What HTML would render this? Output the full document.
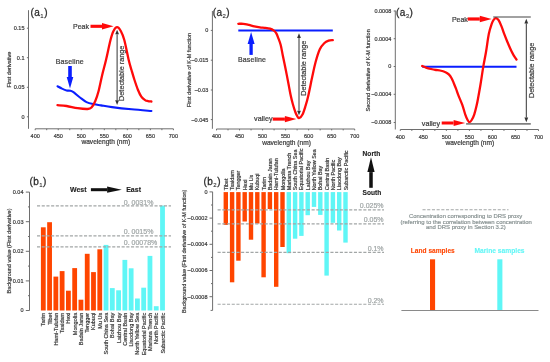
<!DOCTYPE html>
<html><head><meta charset="utf-8"><style>
html,body{margin:0;padding:0;background:#fff;width:550px;height:362px;overflow:hidden}
svg{display:block;filter:blur(0.3px)}
text{font-family:"Liberation Sans", sans-serif}
</style></head><body>
<svg width="550" height="362" viewBox="0 0 550 362" font-family='"Liberation Sans", sans-serif'>
<rect width="550" height="362" fill="#fff"/>
<line x1="28.5" y1="10.2" x2="28.5" y2="128.8" stroke="#6e6e6e" stroke-width="1" />
<line x1="26.9" y1="28.2" x2="28.5" y2="28.2" stroke="#6e6e6e" stroke-width="1" />
<text x="24.5" y="30.099999999999998" font-size="5.5" text-anchor="end" fill="#3a3a3a" stroke="#3a3a3a" stroke-width="0.2" font-weight="400" >0.15</text>
<line x1="26.9" y1="57.7" x2="28.5" y2="57.7" stroke="#6e6e6e" stroke-width="1" />
<text x="24.5" y="59.6" font-size="5.5" text-anchor="end" fill="#3a3a3a" stroke="#3a3a3a" stroke-width="0.2" font-weight="400" >0.1</text>
<line x1="26.9" y1="87.3" x2="28.5" y2="87.3" stroke="#6e6e6e" stroke-width="1" />
<text x="24.5" y="89.2" font-size="5.5" text-anchor="end" fill="#3a3a3a" stroke="#3a3a3a" stroke-width="0.2" font-weight="400" >0.05</text>
<line x1="26.9" y1="116.8" x2="28.5" y2="116.8" stroke="#6e6e6e" stroke-width="1" />
<text x="24.5" y="118.7" font-size="5.5" text-anchor="end" fill="#3a3a3a" stroke="#3a3a3a" stroke-width="0.2" font-weight="400" >0</text>
<line x1="35.2" y1="128.8" x2="173.41000000000003" y2="128.8" stroke="#6e6e6e" stroke-width="1" />
<line x1="35.2" y1="128.8" x2="35.2" y2="130.20000000000002" stroke="#6e6e6e" stroke-width="1" />
<text x="35.2" y="138.2" font-size="5.5" text-anchor="middle" fill="#3a3a3a" stroke="#3a3a3a" stroke-width="0.2" font-weight="400" >400</text>
<line x1="46.7175" y1="128.8" x2="46.7175" y2="130.20000000000002" stroke="#6e6e6e" stroke-width="1" />
<line x1="58.235" y1="128.8" x2="58.235" y2="130.20000000000002" stroke="#6e6e6e" stroke-width="1" />
<text x="58.235" y="138.2" font-size="5.5" text-anchor="middle" fill="#3a3a3a" stroke="#3a3a3a" stroke-width="0.2" font-weight="400" >450</text>
<line x1="69.7525" y1="128.8" x2="69.7525" y2="130.20000000000002" stroke="#6e6e6e" stroke-width="1" />
<line x1="81.27000000000001" y1="128.8" x2="81.27000000000001" y2="130.20000000000002" stroke="#6e6e6e" stroke-width="1" />
<text x="81.27000000000001" y="138.2" font-size="5.5" text-anchor="middle" fill="#3a3a3a" stroke="#3a3a3a" stroke-width="0.2" font-weight="400" >500</text>
<line x1="92.7875" y1="128.8" x2="92.7875" y2="130.20000000000002" stroke="#6e6e6e" stroke-width="1" />
<line x1="104.305" y1="128.8" x2="104.305" y2="130.20000000000002" stroke="#6e6e6e" stroke-width="1" />
<text x="104.305" y="138.2" font-size="5.5" text-anchor="middle" fill="#3a3a3a" stroke="#3a3a3a" stroke-width="0.2" font-weight="400" >550</text>
<line x1="115.8225" y1="128.8" x2="115.8225" y2="130.20000000000002" stroke="#6e6e6e" stroke-width="1" />
<line x1="127.34" y1="128.8" x2="127.34" y2="130.20000000000002" stroke="#6e6e6e" stroke-width="1" />
<text x="127.34" y="138.2" font-size="5.5" text-anchor="middle" fill="#3a3a3a" stroke="#3a3a3a" stroke-width="0.2" font-weight="400" >600</text>
<line x1="138.85750000000002" y1="128.8" x2="138.85750000000002" y2="130.20000000000002" stroke="#6e6e6e" stroke-width="1" />
<line x1="150.375" y1="128.8" x2="150.375" y2="130.20000000000002" stroke="#6e6e6e" stroke-width="1" />
<text x="150.375" y="138.2" font-size="5.5" text-anchor="middle" fill="#3a3a3a" stroke="#3a3a3a" stroke-width="0.2" font-weight="400" >650</text>
<line x1="161.89249999999998" y1="128.8" x2="161.89249999999998" y2="130.20000000000002" stroke="#6e6e6e" stroke-width="1" />
<line x1="173.41000000000003" y1="128.8" x2="173.41000000000003" y2="130.20000000000002" stroke="#6e6e6e" stroke-width="1" />
<text x="173.41000000000003" y="138.2" font-size="5.5" text-anchor="middle" fill="#3a3a3a" stroke="#3a3a3a" stroke-width="0.2" font-weight="400" >700</text>
<text x="130.20000000000002" y="144.39999999999998" font-size="6.6" text-anchor="end" fill="#3a3a3a" stroke="#3a3a3a" stroke-width="0.2" font-weight="400" >wavelength (nm)</text>
<text x="30.5" y="15.7" font-size="10" letter-spacing="0.47" fill="#2e2e2e" stroke="#2e2e2e" stroke-width="0.3">(a<tspan font-size="6" dy="1.9" stroke-width="0.1">1</tspan><tspan dy="-1.9" font-size="10">)</tspan></text>
<text transform="translate(11.0,69.5) rotate(-90)" font-size="5.5" text-anchor="middle" fill="#3a3a3a" stroke="#3a3a3a" stroke-width="0.2" font-weight="400" >First derivative</text>
<path d="M57.50,86.30 C58.25,86.68 60.48,87.92 62.00,88.60 C63.52,89.28 65.20,90.03 66.60,90.40 C68.00,90.77 69.20,90.47 70.40,90.80 C71.60,91.13 72.20,91.28 73.80,92.40 C75.40,93.52 77.88,95.88 80.00,97.50 C82.12,99.12 84.13,100.97 86.50,102.10 C88.87,103.23 91.78,103.75 94.20,104.30 C96.62,104.85 98.03,104.93 101.00,105.40 C103.97,105.87 106.90,106.45 112.00,107.10 C117.10,107.75 125.03,108.65 131.60,109.30 C138.17,109.95 148.10,110.72 151.40,111.00" fill="none" stroke="#0a1eff" stroke-width="2.1" stroke-linecap="round" stroke-linejoin="round"/>
<path d="M57.50,105.20 C59.02,105.33 63.25,105.50 66.60,106.00 C69.95,106.50 74.10,107.70 77.60,108.20 C81.10,108.70 85.28,109.12 87.60,109.00 C89.92,108.88 90.22,108.83 91.50,107.50 C92.78,106.17 94.12,103.75 95.30,101.00 C96.48,98.25 97.45,95.33 98.60,91.00 C99.75,86.67 100.97,80.17 102.20,75.00 C103.43,69.83 104.62,65.83 106.00,60.00 C107.38,54.17 109.25,44.83 110.50,40.00 C111.75,35.17 112.40,33.13 113.50,31.00 C114.60,28.87 115.88,27.20 117.10,27.20 C118.32,27.20 119.60,28.87 120.80,31.00 C122.00,33.13 122.98,35.17 124.30,40.00 C125.62,44.83 127.50,55.00 128.70,60.00 C129.90,65.00 130.53,66.67 131.50,70.00 C132.47,73.33 133.43,76.72 134.50,80.00 C135.57,83.28 136.77,86.93 137.90,89.70 C139.03,92.47 140.10,94.87 141.30,96.60 C142.50,98.33 143.98,99.35 145.10,100.10 C146.22,100.85 146.95,100.87 148.00,101.10 C149.05,101.33 150.83,101.43 151.40,101.50" fill="none" stroke="#ff0a0a" stroke-width="2.3" stroke-linecap="round" stroke-linejoin="round"/>
<rect x="90.5" y="24.75" width="11.5" height="3.1" fill="#ff0a0a"/>
<polygon points="102.0,23.05 113.6,26.3 102.0,29.55" fill="#ff0a0a"/>
<text x="73" y="29" font-size="7" text-anchor="start" fill="#3a3a3a" stroke="#3a3a3a" stroke-width="0.2" font-weight="400" >Peak</text>
<text x="55.7" y="63.8" font-size="7" text-anchor="start" fill="#3a3a3a" stroke="#3a3a3a" stroke-width="0.2" font-weight="400" letter-spacing="0.15">Baseline</text>
<rect x="68.2" y="66" width="3.6" height="11.099999999999994" fill="#0a1eff"/>
<polygon points="66.7,77.1 70,88.6 73.3,77.1" fill="#0a1eff"/>
<line x1="117.1" y1="66" x2="117.1" y2="34.3" stroke="#333" stroke-width="1" />
<polygon points="115.19999999999999,34.3 117.1,29.7 119.0,34.3" fill="#333"/>
<line x1="117.1" y1="66" x2="117.1" y2="100.30000000000001" stroke="#333" stroke-width="1" />
<polygon points="115.19999999999999,100.30000000000001 117.1,104.9 119.0,100.30000000000001" fill="#333"/>
<text transform="translate(123.6,73.3) rotate(-90)" font-size="6.8" text-anchor="middle" fill="#3a3a3a" stroke="#3a3a3a" stroke-width="0.2" font-weight="400" textLength="55.2" lengthAdjust="spacingAndGlyphs">Detectable range</text>
<line x1="212.4" y1="11" x2="212.4" y2="128.8" stroke="#6e6e6e" stroke-width="1" />
<line x1="210.8" y1="30.4" x2="212.4" y2="30.4" stroke="#6e6e6e" stroke-width="1" />
<text x="208.4" y="32.3" font-size="5.5" text-anchor="end" fill="#3a3a3a" stroke="#3a3a3a" stroke-width="0.2" font-weight="400" >0</text>
<line x1="210.8" y1="60.2" x2="212.4" y2="60.2" stroke="#6e6e6e" stroke-width="1" />
<text x="208.4" y="62.1" font-size="5.5" text-anchor="end" fill="#3a3a3a" stroke="#3a3a3a" stroke-width="0.2" font-weight="400" >–0.015</text>
<line x1="210.8" y1="90" x2="212.4" y2="90" stroke="#6e6e6e" stroke-width="1" />
<text x="208.4" y="91.9" font-size="5.5" text-anchor="end" fill="#3a3a3a" stroke="#3a3a3a" stroke-width="0.2" font-weight="400" >–0.03</text>
<line x1="210.8" y1="119.6" x2="212.4" y2="119.6" stroke="#6e6e6e" stroke-width="1" />
<text x="208.4" y="121.5" font-size="5.5" text-anchor="end" fill="#3a3a3a" stroke="#3a3a3a" stroke-width="0.2" font-weight="400" >–0.045</text>
<line x1="216.5" y1="129" x2="354.71000000000004" y2="129" stroke="#6e6e6e" stroke-width="1" />
<line x1="216.5" y1="129" x2="216.5" y2="130.4" stroke="#6e6e6e" stroke-width="1" />
<text x="216.5" y="138.4" font-size="5.5" text-anchor="middle" fill="#3a3a3a" stroke="#3a3a3a" stroke-width="0.2" font-weight="400" >400</text>
<line x1="228.0175" y1="129" x2="228.0175" y2="130.4" stroke="#6e6e6e" stroke-width="1" />
<line x1="239.535" y1="129" x2="239.535" y2="130.4" stroke="#6e6e6e" stroke-width="1" />
<text x="239.535" y="138.4" font-size="5.5" text-anchor="middle" fill="#3a3a3a" stroke="#3a3a3a" stroke-width="0.2" font-weight="400" >450</text>
<line x1="251.0525" y1="129" x2="251.0525" y2="130.4" stroke="#6e6e6e" stroke-width="1" />
<line x1="262.57" y1="129" x2="262.57" y2="130.4" stroke="#6e6e6e" stroke-width="1" />
<text x="262.57" y="138.4" font-size="5.5" text-anchor="middle" fill="#3a3a3a" stroke="#3a3a3a" stroke-width="0.2" font-weight="400" >500</text>
<line x1="274.0875" y1="129" x2="274.0875" y2="130.4" stroke="#6e6e6e" stroke-width="1" />
<line x1="285.605" y1="129" x2="285.605" y2="130.4" stroke="#6e6e6e" stroke-width="1" />
<text x="285.605" y="138.4" font-size="5.5" text-anchor="middle" fill="#3a3a3a" stroke="#3a3a3a" stroke-width="0.2" font-weight="400" >550</text>
<line x1="297.1225" y1="129" x2="297.1225" y2="130.4" stroke="#6e6e6e" stroke-width="1" />
<line x1="308.64" y1="129" x2="308.64" y2="130.4" stroke="#6e6e6e" stroke-width="1" />
<text x="308.64" y="138.4" font-size="5.5" text-anchor="middle" fill="#3a3a3a" stroke="#3a3a3a" stroke-width="0.2" font-weight="400" >600</text>
<line x1="320.1575" y1="129" x2="320.1575" y2="130.4" stroke="#6e6e6e" stroke-width="1" />
<line x1="331.675" y1="129" x2="331.675" y2="130.4" stroke="#6e6e6e" stroke-width="1" />
<text x="331.675" y="138.4" font-size="5.5" text-anchor="middle" fill="#3a3a3a" stroke="#3a3a3a" stroke-width="0.2" font-weight="400" >650</text>
<line x1="343.1925" y1="129" x2="343.1925" y2="130.4" stroke="#6e6e6e" stroke-width="1" />
<line x1="354.71000000000004" y1="129" x2="354.71000000000004" y2="130.4" stroke="#6e6e6e" stroke-width="1" />
<text x="354.71000000000004" y="138.4" font-size="5.5" text-anchor="middle" fill="#3a3a3a" stroke="#3a3a3a" stroke-width="0.2" font-weight="400" >700</text>
<text x="310.9" y="144.6" font-size="6.6" text-anchor="end" fill="#3a3a3a" stroke="#3a3a3a" stroke-width="0.2" font-weight="400" >wavelength (nm)</text>
<text x="212.7" y="15.7" font-size="10" letter-spacing="0.47" fill="#2e2e2e" stroke="#2e2e2e" stroke-width="0.3">(a<tspan font-size="6" dy="1.9" stroke-width="0.1">2</tspan><tspan dy="-1.9" font-size="10">)</tspan></text>
<text transform="translate(190.8,70) rotate(-90)" font-size="5.5" text-anchor="middle" fill="#3a3a3a" stroke="#3a3a3a" stroke-width="0.2" font-weight="400" >First derivative of K-M function</text>
<line x1="238.3" y1="30.5" x2="332.8" y2="30.5" stroke="#0a1eff" stroke-width="2.1" />
<path d="M238.30,23.80 C239.13,23.80 241.55,23.62 243.30,23.80 C245.05,23.98 246.97,24.48 248.80,24.90 C250.63,25.32 252.45,25.90 254.30,26.30 C256.15,26.70 258.15,27.05 259.90,27.30 C261.65,27.55 263.12,27.57 264.80,27.80 C266.48,28.03 268.53,28.27 270.00,28.70 C271.47,29.13 272.57,29.65 273.60,30.40 C274.63,31.15 275.43,31.97 276.20,33.20 C276.97,34.43 277.45,35.83 278.20,37.80 C278.95,39.77 279.95,42.13 280.70,45.00 C281.45,47.87 281.85,50.83 282.70,55.00 C283.55,59.17 284.80,65.00 285.80,70.00 C286.80,75.00 287.90,80.83 288.70,85.00 C289.50,89.17 289.92,91.83 290.60,95.00 C291.28,98.17 291.98,101.08 292.80,104.00 C293.62,106.92 294.72,110.40 295.50,112.50 C296.28,114.60 296.87,115.68 297.50,116.60 C298.13,117.52 298.47,118.35 299.30,118.00 C300.13,117.65 301.47,116.50 302.50,114.50 C303.53,112.50 304.57,109.00 305.50,106.00 C306.43,103.00 306.97,101.40 308.10,96.50 C309.23,91.60 311.05,82.35 312.30,76.60 C313.55,70.85 314.35,66.55 315.60,62.00 C316.85,57.45 318.37,52.43 319.80,49.30 C321.23,46.17 322.73,44.65 324.20,43.20 C325.67,41.75 327.17,41.12 328.60,40.60 C330.03,40.08 332.10,40.18 332.80,40.10" fill="none" stroke="#ff0a0a" stroke-width="2.3" stroke-linecap="round" stroke-linejoin="round"/>
<rect x="249.45" y="43.9" width="3.3" height="11.0" fill="#0a1eff"/>
<polygon points="247.6,43.9 251.1,31.9 254.6,43.9" fill="#0a1eff"/>
<text x="238" y="62.3" font-size="7" text-anchor="start" fill="#3a3a3a" stroke="#3a3a3a" stroke-width="0.2" font-weight="400" letter-spacing="0.15">Baseline</text>
<text x="254.1" y="121.4" font-size="7.2" text-anchor="start" fill="#3a3a3a" stroke="#3a3a3a" stroke-width="0.2" font-weight="400" >valley</text>
<rect x="272.7" y="117.55" width="12.199999999999989" height="3.1" fill="#ff0a0a"/>
<polygon points="284.9,116.0 296.4,119.1 284.9,122.19999999999999" fill="#ff0a0a"/>
<line x1="299" y1="75" x2="299" y2="37.9" stroke="#333" stroke-width="1" />
<polygon points="297.1,37.9 299,33.3 300.9,37.9" fill="#333"/>
<line x1="299" y1="75" x2="299" y2="110.7" stroke="#333" stroke-width="1" />
<polygon points="297.1,110.7 299,115.3 300.9,110.7" fill="#333"/>
<text transform="translate(305.9,68.2) rotate(-90)" font-size="6.8" text-anchor="middle" fill="#3a3a3a" stroke="#3a3a3a" stroke-width="0.2" font-weight="400" textLength="55.2" lengthAdjust="spacingAndGlyphs">Detectable range</text>
<line x1="395.3" y1="10.5" x2="395.3" y2="129.5" stroke="#6e6e6e" stroke-width="1" />
<line x1="393.7" y1="11" x2="395.3" y2="11" stroke="#6e6e6e" stroke-width="1" />
<text x="391.3" y="12.9" font-size="5.5" text-anchor="end" fill="#3a3a3a" stroke="#3a3a3a" stroke-width="0.2" font-weight="400" >0.0008</text>
<line x1="393.7" y1="38.7" x2="395.3" y2="38.7" stroke="#6e6e6e" stroke-width="1" />
<text x="391.3" y="40.6" font-size="5.5" text-anchor="end" fill="#3a3a3a" stroke="#3a3a3a" stroke-width="0.2" font-weight="400" >0.0004</text>
<line x1="393.7" y1="66.5" x2="395.3" y2="66.5" stroke="#6e6e6e" stroke-width="1" />
<text x="391.3" y="68.4" font-size="5.5" text-anchor="end" fill="#3a3a3a" stroke="#3a3a3a" stroke-width="0.2" font-weight="400" >0</text>
<line x1="393.7" y1="94.3" x2="395.3" y2="94.3" stroke="#6e6e6e" stroke-width="1" />
<text x="391.3" y="96.2" font-size="5.5" text-anchor="end" fill="#3a3a3a" stroke="#3a3a3a" stroke-width="0.2" font-weight="400" >–0.0004</text>
<line x1="393.7" y1="122.5" x2="395.3" y2="122.5" stroke="#6e6e6e" stroke-width="1" />
<text x="391.3" y="124.4" font-size="5.5" text-anchor="end" fill="#3a3a3a" stroke="#3a3a3a" stroke-width="0.2" font-weight="400" >–0.0008</text>
<line x1="400.3" y1="129.5" x2="538.51" y2="129.5" stroke="#6e6e6e" stroke-width="1" />
<line x1="400.3" y1="129.5" x2="400.3" y2="130.9" stroke="#6e6e6e" stroke-width="1" />
<text x="400.3" y="139" font-size="5.5" text-anchor="middle" fill="#3a3a3a" stroke="#3a3a3a" stroke-width="0.2" font-weight="400" >400</text>
<line x1="411.8175" y1="129.5" x2="411.8175" y2="130.9" stroke="#6e6e6e" stroke-width="1" />
<line x1="423.33500000000004" y1="129.5" x2="423.33500000000004" y2="130.9" stroke="#6e6e6e" stroke-width="1" />
<text x="423.33500000000004" y="139" font-size="5.5" text-anchor="middle" fill="#3a3a3a" stroke="#3a3a3a" stroke-width="0.2" font-weight="400" >450</text>
<line x1="434.8525" y1="129.5" x2="434.8525" y2="130.9" stroke="#6e6e6e" stroke-width="1" />
<line x1="446.37" y1="129.5" x2="446.37" y2="130.9" stroke="#6e6e6e" stroke-width="1" />
<text x="446.37" y="139" font-size="5.5" text-anchor="middle" fill="#3a3a3a" stroke="#3a3a3a" stroke-width="0.2" font-weight="400" >500</text>
<line x1="457.8875" y1="129.5" x2="457.8875" y2="130.9" stroke="#6e6e6e" stroke-width="1" />
<line x1="469.40500000000003" y1="129.5" x2="469.40500000000003" y2="130.9" stroke="#6e6e6e" stroke-width="1" />
<text x="469.40500000000003" y="139" font-size="5.5" text-anchor="middle" fill="#3a3a3a" stroke="#3a3a3a" stroke-width="0.2" font-weight="400" >550</text>
<line x1="480.9225" y1="129.5" x2="480.9225" y2="130.9" stroke="#6e6e6e" stroke-width="1" />
<line x1="492.44" y1="129.5" x2="492.44" y2="130.9" stroke="#6e6e6e" stroke-width="1" />
<text x="492.44" y="139" font-size="5.5" text-anchor="middle" fill="#3a3a3a" stroke="#3a3a3a" stroke-width="0.2" font-weight="400" >600</text>
<line x1="503.9575" y1="129.5" x2="503.9575" y2="130.9" stroke="#6e6e6e" stroke-width="1" />
<line x1="515.475" y1="129.5" x2="515.475" y2="130.9" stroke="#6e6e6e" stroke-width="1" />
<text x="515.475" y="139" font-size="5.5" text-anchor="middle" fill="#3a3a3a" stroke="#3a3a3a" stroke-width="0.2" font-weight="400" >650</text>
<line x1="526.9925000000001" y1="129.5" x2="526.9925000000001" y2="130.9" stroke="#6e6e6e" stroke-width="1" />
<line x1="538.51" y1="129.5" x2="538.51" y2="130.9" stroke="#6e6e6e" stroke-width="1" />
<text x="538.51" y="139" font-size="5.5" text-anchor="middle" fill="#3a3a3a" stroke="#3a3a3a" stroke-width="0.2" font-weight="400" >700</text>
<text x="494.2" y="145.2" font-size="6.6" text-anchor="end" fill="#3a3a3a" stroke="#3a3a3a" stroke-width="0.2" font-weight="400" >wavelength (nm)</text>
<text x="395.9" y="15.7" font-size="10" letter-spacing="0.47" fill="#2e2e2e" stroke="#2e2e2e" stroke-width="0.3">(a<tspan font-size="6" dy="1.9" stroke-width="0.1">3</tspan><tspan dy="-1.9" font-size="10">)</tspan></text>
<text transform="translate(370.0,70.4) rotate(-90)" font-size="5.5" text-anchor="middle" fill="#3a3a3a" stroke="#3a3a3a" stroke-width="0.2" font-weight="400" >Second derivative of K-M function</text>
<line x1="422.2" y1="66.7" x2="516.5" y2="66.7" stroke="#0a1eff" stroke-width="2.1" />
<path d="M422.20,66.00 C422.83,66.27 424.53,67.10 426.00,67.60 C427.47,68.10 429.33,68.60 431.00,69.00 C432.67,69.40 434.50,69.75 436.00,70.00 C437.50,70.25 438.42,70.13 440.00,70.50 C441.58,70.87 444.03,71.55 445.50,72.20 C446.97,72.85 447.78,73.40 448.80,74.40 C449.82,75.40 450.77,76.73 451.60,78.20 C452.43,79.67 453.07,81.45 453.80,83.20 C454.53,84.95 455.23,86.67 456.00,88.70 C456.77,90.73 457.35,92.70 458.40,95.40 C459.45,98.10 461.17,101.75 462.30,104.90 C463.43,108.05 464.32,111.78 465.20,114.30 C466.08,116.82 466.88,118.70 467.60,120.00 C468.32,121.30 468.82,122.10 469.50,122.10 C470.18,122.10 470.90,121.30 471.70,120.00 C472.50,118.70 473.48,116.70 474.30,114.30 C475.12,111.90 475.93,108.48 476.60,105.60 C477.27,102.72 477.65,100.52 478.30,97.00 C478.95,93.48 479.67,89.57 480.50,84.50 C481.33,79.43 482.38,72.02 483.30,66.60 C484.22,61.18 485.08,57.42 486.00,52.00 C486.92,46.58 487.87,38.73 488.80,34.10 C489.73,29.47 490.77,26.60 491.60,24.20 C492.43,21.80 493.07,20.72 493.80,19.70 C494.53,18.68 495.20,18.02 496.00,18.10 C496.80,18.18 497.68,18.82 498.60,20.20 C499.52,21.58 500.55,24.07 501.50,26.40 C502.45,28.73 503.38,31.77 504.30,34.20 C505.22,36.63 505.80,38.15 507.00,41.00 C508.20,43.85 510.33,48.83 511.50,51.30 C512.67,53.77 513.17,54.43 514.00,55.80 C514.83,57.17 516.08,58.88 516.50,59.50" fill="none" stroke="#ff0a0a" stroke-width="2.3" stroke-linecap="round" stroke-linejoin="round"/>
<line x1="493.2" y1="17.0" x2="530.8" y2="17.0" stroke="#444" stroke-width="1.1" />
<line x1="466.1" y1="123.8" x2="530.8" y2="123.8" stroke="#808080" stroke-width="1.7" />
<rect x="467.6" y="17.4" width="12.199999999999989" height="3.2" fill="#ff0a0a"/>
<polygon points="479.8,15.8 491.7,19 479.8,22.2" fill="#ff0a0a"/>
<text x="451.9" y="21.6" font-size="7" text-anchor="start" fill="#3a3a3a" stroke="#3a3a3a" stroke-width="0.2" font-weight="400" >Peak</text>
<rect x="441.7" y="121.5" width="11.899999999999977" height="3.0" fill="#ff0a0a"/>
<polygon points="453.59999999999997,119.9 465.2,123 453.59999999999997,126.1" fill="#ff0a0a"/>
<text x="421.8" y="125.6" font-size="7.2" text-anchor="start" fill="#3a3a3a" stroke="#3a3a3a" stroke-width="0.2" font-weight="400" >valley</text>
<line x1="526.3" y1="70" x2="526.3" y2="23.4" stroke="#333" stroke-width="1" />
<polygon points="524.4,23.4 526.3,18.8 528.1999999999999,23.4" fill="#333"/>
<line x1="526.3" y1="70" x2="526.3" y2="117.60000000000001" stroke="#333" stroke-width="1" />
<polygon points="524.4,117.60000000000001 526.3,122.2 528.1999999999999,117.60000000000001" fill="#333"/>
<text transform="translate(534.4,70.4) rotate(-90)" font-size="6.8" text-anchor="middle" fill="#3a3a3a" stroke="#3a3a3a" stroke-width="0.2" font-weight="400" textLength="55.2" lengthAdjust="spacingAndGlyphs">Detectable range</text>
<line x1="29.5" y1="192.1" x2="29.5" y2="310.5" stroke="#6e6e6e" stroke-width="1" />
<line x1="25.8" y1="192.1" x2="29.5" y2="192.1" stroke="#6e6e6e" stroke-width="1" />
<text x="23.5" y="194.0" font-size="5.5" text-anchor="end" fill="#3a3a3a" stroke="#3a3a3a" stroke-width="0.2" font-weight="400" >0.04</text>
<line x1="28" y1="206.9" x2="29.5" y2="206.9" stroke="#6e6e6e" stroke-width="1" />
<line x1="25.8" y1="221.7" x2="29.5" y2="221.7" stroke="#6e6e6e" stroke-width="1" />
<text x="23.5" y="223.6" font-size="5.5" text-anchor="end" fill="#3a3a3a" stroke="#3a3a3a" stroke-width="0.2" font-weight="400" >0.03</text>
<line x1="28" y1="236.5" x2="29.5" y2="236.5" stroke="#6e6e6e" stroke-width="1" />
<line x1="25.8" y1="251.3" x2="29.5" y2="251.3" stroke="#6e6e6e" stroke-width="1" />
<text x="23.5" y="253.20000000000002" font-size="5.5" text-anchor="end" fill="#3a3a3a" stroke="#3a3a3a" stroke-width="0.2" font-weight="400" >0.02</text>
<line x1="28" y1="266.1" x2="29.5" y2="266.1" stroke="#6e6e6e" stroke-width="1" />
<line x1="25.8" y1="280.9" x2="29.5" y2="280.9" stroke="#6e6e6e" stroke-width="1" />
<text x="23.5" y="282.79999999999995" font-size="5.5" text-anchor="end" fill="#3a3a3a" stroke="#3a3a3a" stroke-width="0.2" font-weight="400" >0.01</text>
<line x1="28" y1="295.7" x2="29.5" y2="295.7" stroke="#6e6e6e" stroke-width="1" />
<line x1="25.8" y1="310.5" x2="29.5" y2="310.5" stroke="#6e6e6e" stroke-width="1" />
<text x="23.5" y="312.4" font-size="5.5" text-anchor="end" fill="#3a3a3a" stroke="#3a3a3a" stroke-width="0.2" font-weight="400" >0</text>
<text x="29.4" y="185.0" font-size="10" letter-spacing="0.47" fill="#2e2e2e" stroke="#2e2e2e" stroke-width="0.3">(b<tspan font-size="6" dy="1.9" stroke-width="0.1">1</tspan><tspan dy="-1.9" font-size="10">)</tspan></text>
<text transform="translate(10.7,251) rotate(-90)" font-size="5.5" text-anchor="middle" fill="#3a3a3a" stroke="#3a3a3a" stroke-width="0.2" font-weight="400" >Background value (First derivative)</text>
<text x="123.8" y="204.6" font-size="7" text-anchor="start" fill="#a0a6a6" stroke="#a0a6a6" stroke-width="0.2" font-weight="400" >0. 0031%</text>
<text x="123.8" y="234.4" font-size="7" text-anchor="start" fill="#a0a6a6" stroke="#a0a6a6" stroke-width="0.2" font-weight="400" >0. 0015%</text>
<text x="123.8" y="245.3" font-size="7" text-anchor="start" fill="#a0a6a6" stroke="#a0a6a6" stroke-width="0.2" font-weight="400" >0. 00078%</text>
<rect x="40.90" y="227.30" width="4.8" height="83.20" fill="#ff4500"/>
<rect x="47.17" y="222.20" width="4.8" height="88.30" fill="#ff4500"/>
<rect x="53.45" y="276.60" width="4.8" height="33.90" fill="#ff4500"/>
<rect x="59.72" y="271.10" width="4.8" height="39.40" fill="#ff4500"/>
<rect x="66.00" y="290.70" width="4.8" height="19.80" fill="#ff4500"/>
<rect x="72.27" y="268.10" width="4.8" height="42.40" fill="#ff4500"/>
<rect x="78.54" y="299.70" width="4.8" height="10.80" fill="#ff4500"/>
<rect x="84.82" y="253.80" width="4.8" height="56.70" fill="#ff4500"/>
<rect x="91.09" y="272.10" width="4.8" height="38.40" fill="#ff4500"/>
<rect x="97.37" y="249.30" width="4.8" height="61.20" fill="#ff4500"/>
<rect x="103.64" y="244.90" width="4.8" height="65.60" fill="#5ff6f6"/>
<rect x="109.91" y="288.10" width="4.8" height="22.40" fill="#5ff6f6"/>
<rect x="116.19" y="290.30" width="4.8" height="20.20" fill="#5ff6f6"/>
<rect x="122.46" y="259.90" width="4.8" height="50.60" fill="#5ff6f6"/>
<rect x="128.74" y="268.30" width="4.8" height="42.20" fill="#5ff6f6"/>
<rect x="135.01" y="298.50" width="4.8" height="12.00" fill="#5ff6f6"/>
<rect x="141.28" y="287.70" width="4.8" height="22.80" fill="#5ff6f6"/>
<rect x="147.56" y="255.90" width="4.8" height="54.60" fill="#5ff6f6"/>
<rect x="153.83" y="306.20" width="4.8" height="4.30" fill="#5ff6f6"/>
<rect x="160.11" y="205.60" width="4.8" height="104.90" fill="#5ff6f6"/>
<line x1="37" y1="205.9" x2="171" y2="205.9" stroke="#a2a6a6" stroke-width="1.15" stroke-dasharray="3.1 1.6"/>
<line x1="37" y1="235.9" x2="171" y2="235.9" stroke="#a2a6a6" stroke-width="1.15" stroke-dasharray="3.1 1.6"/>
<line x1="37" y1="246.9" x2="171" y2="246.9" stroke="#a2a6a6" stroke-width="1.15" stroke-dasharray="3.1 1.6"/>
<text transform="translate(45.3,312.8) rotate(-90)" font-size="5.5" text-anchor="end" fill="#3a3a3a" stroke="#3a3a3a" stroke-width="0.2" font-weight="400" >Tarim</text>
<text transform="translate(51.574,312.8) rotate(-90)" font-size="5.5" text-anchor="end" fill="#3a3a3a" stroke="#3a3a3a" stroke-width="0.2" font-weight="400" >Tibet</text>
<text transform="translate(57.848,312.8) rotate(-90)" font-size="5.5" text-anchor="end" fill="#3a3a3a" stroke="#3a3a3a" stroke-width="0.2" font-weight="400" >Hami-Tulufan</text>
<text transform="translate(64.12199999999999,312.8) rotate(-90)" font-size="5.5" text-anchor="end" fill="#3a3a3a" stroke="#3a3a3a" stroke-width="0.2" font-weight="400" >Tsaidam</text>
<text transform="translate(70.396,312.8) rotate(-90)" font-size="5.5" text-anchor="end" fill="#3a3a3a" stroke="#3a3a3a" stroke-width="0.2" font-weight="400" >Hexi</text>
<text transform="translate(76.67,312.8) rotate(-90)" font-size="5.5" text-anchor="end" fill="#3a3a3a" stroke="#3a3a3a" stroke-width="0.2" font-weight="400" >Mongolia</text>
<text transform="translate(82.944,312.8) rotate(-90)" font-size="5.5" text-anchor="end" fill="#3a3a3a" stroke="#3a3a3a" stroke-width="0.2" font-weight="400" >Badain Jaran</text>
<text transform="translate(89.218,312.8) rotate(-90)" font-size="5.5" text-anchor="end" fill="#3a3a3a" stroke="#3a3a3a" stroke-width="0.2" font-weight="400" >Tengger</text>
<text transform="translate(95.492,312.8) rotate(-90)" font-size="5.5" text-anchor="end" fill="#3a3a3a" stroke="#3a3a3a" stroke-width="0.2" font-weight="400" >Kubuqi</text>
<text transform="translate(101.766,312.8) rotate(-90)" font-size="5.5" text-anchor="end" fill="#3a3a3a" stroke="#3a3a3a" stroke-width="0.2" font-weight="400" >Mu Us</text>
<text transform="translate(108.04,312.8) rotate(-90)" font-size="5.5" text-anchor="end" fill="#3a3a3a" stroke="#3a3a3a" stroke-width="0.2" font-weight="400" >South China Sea</text>
<text transform="translate(114.314,312.8) rotate(-90)" font-size="5.5" text-anchor="end" fill="#3a3a3a" stroke="#3a3a3a" stroke-width="0.2" font-weight="400" >Bohai Bay</text>
<text transform="translate(120.588,312.8) rotate(-90)" font-size="5.5" text-anchor="end" fill="#3a3a3a" stroke="#3a3a3a" stroke-width="0.2" font-weight="400" >Laizhou Bay</text>
<text transform="translate(126.862,312.8) rotate(-90)" font-size="5.5" text-anchor="end" fill="#3a3a3a" stroke="#3a3a3a" stroke-width="0.2" font-weight="400" >Central Basin</text>
<text transform="translate(133.136,312.8) rotate(-90)" font-size="5.5" text-anchor="end" fill="#3a3a3a" stroke="#3a3a3a" stroke-width="0.2" font-weight="400" >Liaodong Bay</text>
<text transform="translate(139.41,312.8) rotate(-90)" font-size="5.5" text-anchor="end" fill="#3a3a3a" stroke="#3a3a3a" stroke-width="0.2" font-weight="400" >North Yellow Sea</text>
<text transform="translate(145.684,312.8) rotate(-90)" font-size="5.5" text-anchor="end" fill="#3a3a3a" stroke="#3a3a3a" stroke-width="0.2" font-weight="400" >Equatorial Pacific</text>
<text transform="translate(151.958,312.8) rotate(-90)" font-size="5.5" text-anchor="end" fill="#3a3a3a" stroke="#3a3a3a" stroke-width="0.2" font-weight="400" >Mariana Trench</text>
<text transform="translate(158.232,312.8) rotate(-90)" font-size="5.5" text-anchor="end" fill="#3a3a3a" stroke="#3a3a3a" stroke-width="0.2" font-weight="400" >North Pacific</text>
<text transform="translate(164.506,312.8) rotate(-90)" font-size="5.5" text-anchor="end" fill="#3a3a3a" stroke="#3a3a3a" stroke-width="0.2" font-weight="400" >Subarctic Pacific</text>
<text x="70" y="192" font-size="7" text-anchor="start" fill="#222" stroke="#222" stroke-width="0.12" font-weight="700" >West</text>
<text x="126.2" y="192" font-size="7" text-anchor="start" fill="#222" stroke="#222" stroke-width="0.12" font-weight="700" >East</text>
<rect x="90.9" y="188.2" width="16.19999999999999" height="3" fill="#111"/>
<polygon points="107.1,186.6 121.8,189.7 107.1,192.79999999999998" fill="#111"/>
<line x1="212.6" y1="191.8" x2="212.6" y2="310.4" stroke="#6e6e6e" stroke-width="1" />
<line x1="210.6" y1="310.4" x2="212.6" y2="310.4" stroke="#6e6e6e" stroke-width="1" />
<line x1="209.5" y1="191.9" x2="212.6" y2="191.9" stroke="#6e6e6e" stroke-width="1" />
<text x="207.5" y="193.8" font-size="5.5" text-anchor="end" fill="#3a3a3a" stroke="#3a3a3a" stroke-width="0.2" font-weight="400" >0</text>
<line x1="211" y1="205.0" x2="212.6" y2="205.0" stroke="#6e6e6e" stroke-width="1" />
<line x1="209.5" y1="218.1" x2="212.6" y2="218.1" stroke="#6e6e6e" stroke-width="1" />
<text x="207.5" y="220.0" font-size="5.5" text-anchor="end" fill="#3a3a3a" stroke="#3a3a3a" stroke-width="0.2" font-weight="400" >–0.0002</text>
<line x1="211" y1="231.2" x2="212.6" y2="231.2" stroke="#6e6e6e" stroke-width="1" />
<line x1="209.5" y1="244.3" x2="212.6" y2="244.3" stroke="#6e6e6e" stroke-width="1" />
<text x="207.5" y="246.20000000000002" font-size="5.5" text-anchor="end" fill="#3a3a3a" stroke="#3a3a3a" stroke-width="0.2" font-weight="400" >–0.0004</text>
<line x1="211" y1="257.4" x2="212.6" y2="257.4" stroke="#6e6e6e" stroke-width="1" />
<line x1="209.5" y1="270.5" x2="212.6" y2="270.5" stroke="#6e6e6e" stroke-width="1" />
<text x="207.5" y="272.4" font-size="5.5" text-anchor="end" fill="#3a3a3a" stroke="#3a3a3a" stroke-width="0.2" font-weight="400" >–0.0006</text>
<line x1="211" y1="283.6" x2="212.6" y2="283.6" stroke="#6e6e6e" stroke-width="1" />
<line x1="209.5" y1="296.7" x2="212.6" y2="296.7" stroke="#6e6e6e" stroke-width="1" />
<text x="207.5" y="298.59999999999997" font-size="5.5" text-anchor="end" fill="#3a3a3a" stroke="#3a3a3a" stroke-width="0.2" font-weight="400" >–0.0008</text>
<text x="203.5" y="184.8" font-size="10" letter-spacing="0.47" fill="#2e2e2e" stroke="#2e2e2e" stroke-width="0.3">(b<tspan font-size="6" dy="1.9" stroke-width="0.1">2</tspan><tspan dy="-1.9" font-size="10">)</tspan></text>
<text transform="translate(186.3,251.3) rotate(-90)" font-size="5.5" text-anchor="middle" fill="#3a3a3a" stroke="#3a3a3a" stroke-width="0.2" font-weight="400" >Background value (First derivative of K-M function)</text>
<text x="383.6" y="207.5" font-size="7" text-anchor="end" fill="#a0a6a6" stroke="#a0a6a6" stroke-width="0.2" font-weight="400" >0.025%</text>
<text x="383.6" y="221.7" font-size="7" text-anchor="end" fill="#a0a6a6" stroke="#a0a6a6" stroke-width="0.2" font-weight="400" >0.05%</text>
<text x="383.6" y="250.5" font-size="7" text-anchor="end" fill="#a0a6a6" stroke="#a0a6a6" stroke-width="0.2" font-weight="400" >0.1%</text>
<text x="383.6" y="302.5" font-size="7" text-anchor="end" fill="#a0a6a6" stroke="#a0a6a6" stroke-width="0.2" font-weight="400" >0.2%</text>
<rect x="223.60" y="192.10" width="4.4" height="32.80" fill="#ff4500"/>
<rect x="229.90" y="192.10" width="4.4" height="90.20" fill="#ff4500"/>
<rect x="236.20" y="192.10" width="4.4" height="68.60" fill="#ff4500"/>
<rect x="242.50" y="192.10" width="4.4" height="29.40" fill="#ff4500"/>
<rect x="248.80" y="192.10" width="4.4" height="47.60" fill="#ff4500"/>
<rect x="255.10" y="192.10" width="4.4" height="31.40" fill="#ff4500"/>
<rect x="261.40" y="192.10" width="4.4" height="85.20" fill="#ff4500"/>
<rect x="267.70" y="192.10" width="4.4" height="16.90" fill="#ff4500"/>
<rect x="274.00" y="192.10" width="4.4" height="94.70" fill="#ff4500"/>
<rect x="280.30" y="192.10" width="4.4" height="54.90" fill="#ff4500"/>
<rect x="286.60" y="192.10" width="4.4" height="61.10" fill="#5ff6f6"/>
<rect x="292.90" y="192.10" width="4.4" height="46.60" fill="#5ff6f6"/>
<rect x="299.20" y="192.10" width="4.4" height="43.80" fill="#5ff6f6"/>
<rect x="305.50" y="192.10" width="4.4" height="23.10" fill="#5ff6f6"/>
<rect x="311.80" y="192.10" width="4.4" height="14.80" fill="#5ff6f6"/>
<rect x="318.10" y="192.10" width="4.4" height="22.80" fill="#5ff6f6"/>
<rect x="324.40" y="192.10" width="4.4" height="83.50" fill="#5ff6f6"/>
<rect x="330.70" y="192.10" width="4.4" height="30.70" fill="#5ff6f6"/>
<rect x="337.00" y="192.10" width="4.4" height="38.40" fill="#5ff6f6"/>
<rect x="343.30" y="192.10" width="4.4" height="50.50" fill="#5ff6f6"/>
<line x1="217.6" y1="209.8" x2="384" y2="209.8" stroke="#a2a6a6" stroke-width="1.15" stroke-dasharray="3.1 1.6"/>
<line x1="217.6" y1="223.9" x2="384" y2="223.9" stroke="#a2a6a6" stroke-width="1.15" stroke-dasharray="3.1 1.6"/>
<line x1="217.6" y1="252.4" x2="384" y2="252.4" stroke="#a2a6a6" stroke-width="1.15" stroke-dasharray="3.1 1.6"/>
<line x1="217.6" y1="304.2" x2="384" y2="304.2" stroke="#a2a6a6" stroke-width="1.15" stroke-dasharray="3.1 1.6"/>
<text transform="translate(227.79999999999998,190.3) rotate(-90)" font-size="5.4" text-anchor="start" fill="#3a3a3a" stroke="#3a3a3a" stroke-width="0.2" font-weight="400" >Tibet</text>
<text transform="translate(234.1,190.3) rotate(-90)" font-size="5.4" text-anchor="start" fill="#3a3a3a" stroke="#3a3a3a" stroke-width="0.2" font-weight="400" >Tsaidam</text>
<text transform="translate(240.39999999999998,190.3) rotate(-90)" font-size="5.4" text-anchor="start" fill="#3a3a3a" stroke="#3a3a3a" stroke-width="0.2" font-weight="400" >Tengger</text>
<text transform="translate(246.7,190.3) rotate(-90)" font-size="5.4" text-anchor="start" fill="#3a3a3a" stroke="#3a3a3a" stroke-width="0.2" font-weight="400" >Hexi</text>
<text transform="translate(252.99999999999997,190.3) rotate(-90)" font-size="5.4" text-anchor="start" fill="#3a3a3a" stroke="#3a3a3a" stroke-width="0.2" font-weight="400" >Mu Us</text>
<text transform="translate(259.3,190.3) rotate(-90)" font-size="5.4" text-anchor="start" fill="#3a3a3a" stroke="#3a3a3a" stroke-width="0.2" font-weight="400" >Kubuqi</text>
<text transform="translate(265.59999999999997,190.3) rotate(-90)" font-size="5.4" text-anchor="start" fill="#3a3a3a" stroke="#3a3a3a" stroke-width="0.2" font-weight="400" >Tarim</text>
<text transform="translate(271.9,190.3) rotate(-90)" font-size="5.4" text-anchor="start" fill="#3a3a3a" stroke="#3a3a3a" stroke-width="0.2" font-weight="400" >Badain Jaran</text>
<text transform="translate(278.2,190.3) rotate(-90)" font-size="5.4" text-anchor="start" fill="#3a3a3a" stroke="#3a3a3a" stroke-width="0.2" font-weight="400" >Hami-Tulufan</text>
<text transform="translate(284.5,190.3) rotate(-90)" font-size="5.4" text-anchor="start" fill="#3a3a3a" stroke="#3a3a3a" stroke-width="0.2" font-weight="400" >Mongolia</text>
<text transform="translate(290.8,190.3) rotate(-90)" font-size="5.4" text-anchor="start" fill="#3a3a3a" stroke="#3a3a3a" stroke-width="0.2" font-weight="400" >Mariana Trench</text>
<text transform="translate(297.09999999999997,190.3) rotate(-90)" font-size="5.4" text-anchor="start" fill="#3a3a3a" stroke="#3a3a3a" stroke-width="0.2" font-weight="400" >South China Sea</text>
<text transform="translate(303.4,190.3) rotate(-90)" font-size="5.4" text-anchor="start" fill="#3a3a3a" stroke="#3a3a3a" stroke-width="0.2" font-weight="400" >Equatorial Pacific</text>
<text transform="translate(309.7,190.3) rotate(-90)" font-size="5.4" text-anchor="start" fill="#3a3a3a" stroke="#3a3a3a" stroke-width="0.2" font-weight="400" >Laizhou Bay</text>
<text transform="translate(316.0,190.3) rotate(-90)" font-size="5.4" text-anchor="start" fill="#3a3a3a" stroke="#3a3a3a" stroke-width="0.2" font-weight="400" >North Yellow Sea</text>
<text transform="translate(322.3,190.3) rotate(-90)" font-size="5.4" text-anchor="start" fill="#3a3a3a" stroke="#3a3a3a" stroke-width="0.2" font-weight="400" >Bohai Bay</text>
<text transform="translate(328.59999999999997,190.3) rotate(-90)" font-size="5.4" text-anchor="start" fill="#3a3a3a" stroke="#3a3a3a" stroke-width="0.2" font-weight="400" >Central Basin</text>
<text transform="translate(334.9,190.3) rotate(-90)" font-size="5.4" text-anchor="start" fill="#3a3a3a" stroke="#3a3a3a" stroke-width="0.2" font-weight="400" >North Pacific</text>
<text transform="translate(341.2,190.3) rotate(-90)" font-size="5.4" text-anchor="start" fill="#3a3a3a" stroke="#3a3a3a" stroke-width="0.2" font-weight="400" >Liaodong Bay</text>
<text transform="translate(347.5,190.3) rotate(-90)" font-size="5.4" text-anchor="start" fill="#3a3a3a" stroke="#3a3a3a" stroke-width="0.2" font-weight="400" >Subarctic Pacific</text>
<text x="362.6" y="155.8" font-size="6.6" text-anchor="start" fill="#222" stroke="#222" stroke-width="0.12" font-weight="700" >North</text>
<text x="362.6" y="194.7" font-size="6.6" text-anchor="start" fill="#222" stroke="#222" stroke-width="0.12" font-weight="700" >South</text>
<rect x="369.25" y="172.10000000000002" width="3.5" height="15.699999999999989" fill="#111"/>
<polygon points="367.4,172.10000000000002 371,157.3 374.6,172.10000000000002" fill="#111"/>
<line x1="422.5" y1="209.7" x2="508.5" y2="209.7" stroke="#a2a6a6" stroke-width="1.15" stroke-dasharray="3.1 1.6"/>
<text x="465.6" y="217.6" font-size="5.95" text-anchor="middle" fill="#8a9494" stroke="#8a9494" stroke-width="0.2" font-weight="400" >Concentration corresponding to DRS proxy</text>
<text x="466.2" y="223.9" font-size="5.95" text-anchor="middle" fill="#8a9494" stroke="#8a9494" stroke-width="0.2" font-weight="400" >(referring to the correlation between concentration</text>
<text x="465.9" y="229.2" font-size="5.95" text-anchor="middle" fill="#8a9494" stroke="#8a9494" stroke-width="0.2" font-weight="400" >and DRS proxy in Section 3.2)</text>
<text x="410.8" y="252.6" font-size="6.6" text-anchor="start" fill="#ff4500" stroke="#ff4500" stroke-width="0.08" font-weight="700" >Land samples</text>
<text x="474.4" y="252.6" font-size="6.7" text-anchor="start" fill="#5ff6f6" stroke="#5ff6f6" stroke-width="0.08" font-weight="700" >Marine samples</text>
<rect x="430" y="259.3" width="5.1" height="51" fill="#ff4500"/>
<rect x="497.3" y="259.3" width="5.1" height="51" fill="#5ff6f6"/>
<line x1="401.4" y1="310.5" x2="538.5" y2="310.5" stroke="#8a8a8a" stroke-width="1" />
</svg>
</body></html>
